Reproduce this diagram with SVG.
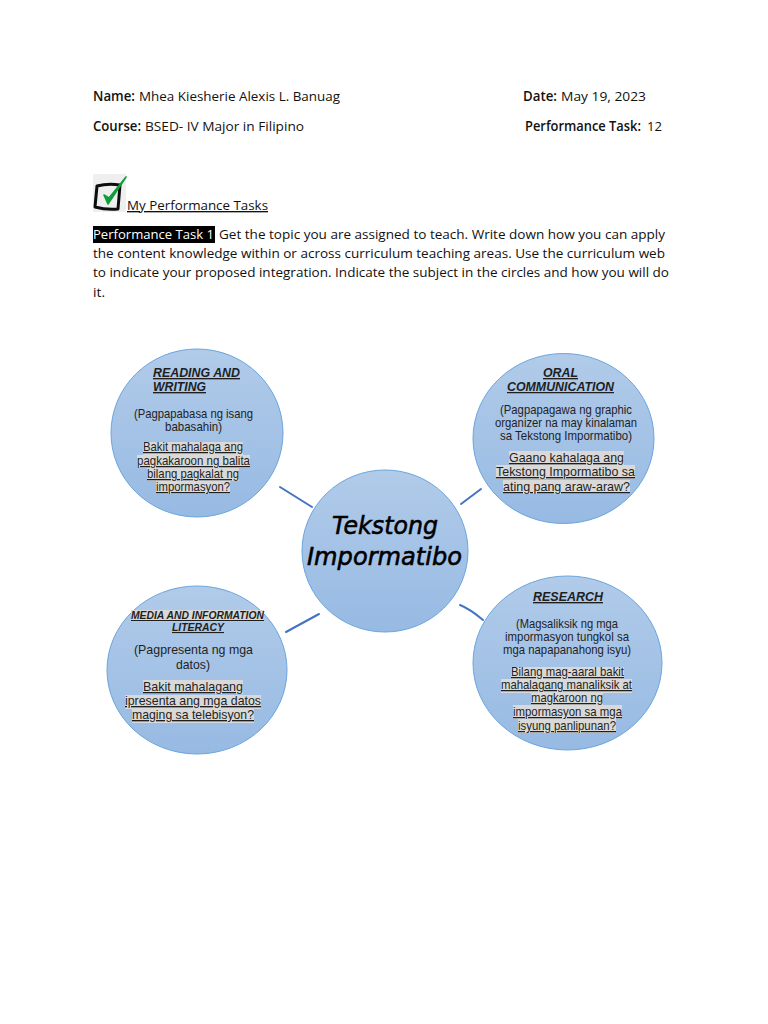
<svg xmlns="http://www.w3.org/2000/svg" width="768" height="1024" viewBox="0 0 768 1024">
<style>
text{font-family:"Liberation Sans",Arial,sans-serif;fill:#1f1f1f}
.d{font-family:"Open Sans","Noto Sans",sans-serif;font-size:13.4px;fill:#111}
.b{font-weight:600}
.u{text-decoration:underline}
.h{font-size:13.5px;font-weight:700;font-style:italic;text-decoration:underline}
.p{font-size:12.6px}
.q{font-size:12.6px;text-decoration:underline}
.l{font-size:13.6px}
.m{fill:#d9d9d9}
.n{fill:url(#g);stroke:#6aa5de;stroke-width:1}
.c{fill:none;stroke:#4472c4;stroke-width:2;stroke-linecap:round}
.t{font-family:"DejaVu Sans",sans-serif;font-size:25px;font-style:italic;fill:#000;stroke:#000;stroke-width:.6}
</style>
<defs><linearGradient id="g" x1="0" y1="0" x2="0" y2="1"><stop offset="0" stop-color="#b1cbe9"/><stop offset="1" stop-color="#97bae3"/></linearGradient></defs>
<rect width="768" height="1024" fill="#fff"/>
<g id="header">
<text class="d b" x="93" y="101" textLength="42" lengthAdjust="spacingAndGlyphs">Name:</text>
<text class="d" x="139" y="101" textLength="201" lengthAdjust="spacingAndGlyphs">Mhea Kiesherie Alexis L. Banuag</text>
<text class="d b" x="523" y="101" textLength="34" lengthAdjust="spacingAndGlyphs">Date:</text>
<text class="d" x="561" y="101" textLength="85" lengthAdjust="spacingAndGlyphs">May 19, 2023</text>
<text class="d b" x="93" y="131" textLength="48" lengthAdjust="spacingAndGlyphs">Course:</text>
<text class="d" x="145" y="131" textLength="159" lengthAdjust="spacingAndGlyphs">BSED- IV Major in Filipino</text>
<text class="d b" x="525" y="131" textLength="116" lengthAdjust="spacingAndGlyphs">Performance Task:</text>
<text class="d" x="647" y="131" textLength="15" lengthAdjust="spacingAndGlyphs">12</text>
</g>
<g id="checkbox-icon">
<rect x="93" y="174" width="33" height="38" fill="#efefef"/>
<path d="M97 186Q96 196 95 207Q106 210 118 209L120 185Q108 183 97 186Z" fill="none" stroke="#0d0d0d" stroke-width="3" stroke-linejoin="round"/>
<path d="M104 195L108 204L126 177L109 198Z" fill="#0f9d3a" stroke="#0f9d3a" stroke-width="1.6" stroke-linejoin="round"/>
</g>
<g id="instructions">
<text class="d u" x="127" y="210" textLength="141" lengthAdjust="spacingAndGlyphs">My Performance Tasks</text>
<rect x="93" y="226" width="122" height="17" fill="#000"/>
<text class="d" x="93" y="239" textLength="121" lengthAdjust="spacingAndGlyphs" style="fill:#fff">Performance Task 1</text>
<text class="d" x="219" y="239" textLength="446" lengthAdjust="spacingAndGlyphs">Get the topic you are assigned to teach. Write down how you can apply</text>
<text class="d" x="93" y="258" textLength="572" lengthAdjust="spacingAndGlyphs">the content knowledge within or across curriculum teaching areas. Use the curriculum web</text>
<text class="d" x="93" y="277" textLength="576" lengthAdjust="spacingAndGlyphs">to indicate your proposed integration. Indicate the subject in the circles and how you will do</text>
<text class="d" x="93" y="297" textLength="12" lengthAdjust="spacingAndGlyphs">it.</text>
</g>
<g id="connectors">
<path class="c" d="M280 487L312 507"/>
<path class="c" d="M461 504L481 489"/>
<path class="c" d="M319 614L286 632"/>
<path class="c" d="M460 605Q470 609 483 620"/>
</g>
<g id="node-reading">
<ellipse class="n" cx="197" cy="433" rx="86" ry="84"/>
<text class="h" x="153" y="377" textLength="87" lengthAdjust="spacingAndGlyphs">READING AND</text>
<text class="h" x="153" y="391" textLength="53" lengthAdjust="spacingAndGlyphs">WRITING</text>
<text class="p" x="134" y="418" textLength="119" lengthAdjust="spacingAndGlyphs">(Pagpapabasa ng isang</text>
<text class="p" x="165" y="431" textLength="57" lengthAdjust="spacingAndGlyphs">babasahin)</text>
<rect class="m" x="143" y="442" width="100" height="13"/><rect class="m" x="137" y="455" width="113" height="13"/><rect class="m" x="147" y="468" width="92" height="13"/><rect class="m" x="156" y="481" width="74" height="13"/>
<text class="q" x="143" y="451" textLength="100" lengthAdjust="spacingAndGlyphs">Bakit mahalaga ang</text>
<text class="q" x="137" y="465" textLength="113" lengthAdjust="spacingAndGlyphs">pagkakaroon ng balita</text>
<text class="q" x="147" y="478" textLength="92" lengthAdjust="spacingAndGlyphs">bilang pagkalat ng</text>
<text class="q" x="156" y="491" textLength="74" lengthAdjust="spacingAndGlyphs">impormasyon?</text>
</g>
<g id="node-oral">
<ellipse class="n" cx="563.5" cy="438.5" rx="90.5" ry="85"/>
<text class="h" x="543" y="377" textLength="35" lengthAdjust="spacingAndGlyphs">ORAL</text>
<text class="h" x="507" y="391" textLength="107" lengthAdjust="spacingAndGlyphs" style="font-size:12.5px">COMMUNICATION</text>
<text class="p" x="500" y="414" textLength="132" lengthAdjust="spacingAndGlyphs">(Pagpapagawa ng graphic</text>
<text class="p" x="495" y="427" textLength="142" lengthAdjust="spacingAndGlyphs">organizer na may kinalaman</text>
<text class="p" x="500" y="440" textLength="132" lengthAdjust="spacingAndGlyphs">sa Tekstong Impormatibo)</text>
<rect class="m" x="509" y="451" width="115" height="14"/><rect class="m" x="496" y="465" width="139" height="14"/><rect class="m" x="503" y="480" width="127" height="14"/>
<text class="q l" x="509" y="462" textLength="115" lengthAdjust="spacingAndGlyphs">Gaano kahalaga ang</text>
<text class="q l" x="496" y="476" textLength="139" lengthAdjust="spacingAndGlyphs">Tekstong Impormatibo sa</text>
<text class="q l" x="503" y="491" textLength="127" lengthAdjust="spacingAndGlyphs">ating pang araw-araw?</text>
</g>
<g id="node-media">
<ellipse class="n" cx="197" cy="670" rx="90" ry="84"/>
<rect class="m" x="131" y="610" width="133" height="12"/>
<text class="h" x="131" y="619" textLength="133" lengthAdjust="spacingAndGlyphs" style="font-size:11px">MEDIA AND INFORMATION</text>
<text class="h" x="172" y="631" textLength="52" lengthAdjust="spacingAndGlyphs" style="font-size:11px">LITERACY</text>
<text class="p l" x="134" y="654" textLength="119" lengthAdjust="spacingAndGlyphs">(Pagpresenta ng mga</text>
<text class="p l" x="176" y="669" textLength="34" lengthAdjust="spacingAndGlyphs">datos)</text>
<rect class="m" x="143" y="680" width="100" height="14"/><rect class="m" x="125" y="695" width="136" height="14"/><rect class="m" x="132" y="709" width="122" height="14"/>
<text class="q l" x="143" y="691" textLength="100" lengthAdjust="spacingAndGlyphs">Bakit mahalagang</text>
<text class="q l" x="125" y="705" textLength="136" lengthAdjust="spacingAndGlyphs">ipresenta ang mga datos</text>
<text class="q l" x="132" y="719" textLength="122" lengthAdjust="spacingAndGlyphs">maging sa telebisyon?</text>
</g>
<g id="node-research">
<ellipse class="n" cx="567.5" cy="663" rx="94.5" ry="87"/>
<text class="h" x="533" y="601" textLength="70" lengthAdjust="spacingAndGlyphs">RESEARCH</text>
<text class="p" x="516" y="628" textLength="102" lengthAdjust="spacingAndGlyphs">(Magsaliksik ng mga</text>
<text class="p" x="505" y="641" textLength="124" lengthAdjust="spacingAndGlyphs">impormasyon tungkol sa</text>
<text class="p" x="503" y="654" textLength="128" lengthAdjust="spacingAndGlyphs">mga napapanahong isyu)</text>
<rect class="m" x="511" y="667" width="113" height="12"/><rect class="m" x="501" y="679" width="131" height="14"/><rect class="m" x="531" y="693" width="72" height="12"/><rect class="m" x="513" y="705" width="109" height="14"/><rect class="m" x="518" y="719" width="98" height="14"/>
<text class="q" x="511" y="676" textLength="113" lengthAdjust="spacingAndGlyphs">Bilang mag-aaral bakit</text>
<text class="q" x="501" y="689" textLength="131" lengthAdjust="spacingAndGlyphs">mahalagang manaliksik at</text>
<text class="q" x="531" y="702" textLength="72" lengthAdjust="spacingAndGlyphs">magkaroon ng</text>
<text class="q" x="513" y="716" textLength="109" lengthAdjust="spacingAndGlyphs">impormasyon sa mga</text>
<text class="q" x="518" y="730" textLength="98" lengthAdjust="spacingAndGlyphs">isyung panlipunan?</text>
</g>
<g id="node-center">
<ellipse class="n" cx="385" cy="551" rx="83" ry="81"/>
<text class="t" x="332" y="534" textLength="106" lengthAdjust="spacingAndGlyphs">Tekstong</text>
<text class="t" x="307" y="565" textLength="155" lengthAdjust="spacingAndGlyphs">Impormatibo</text>
</g>
</svg>
